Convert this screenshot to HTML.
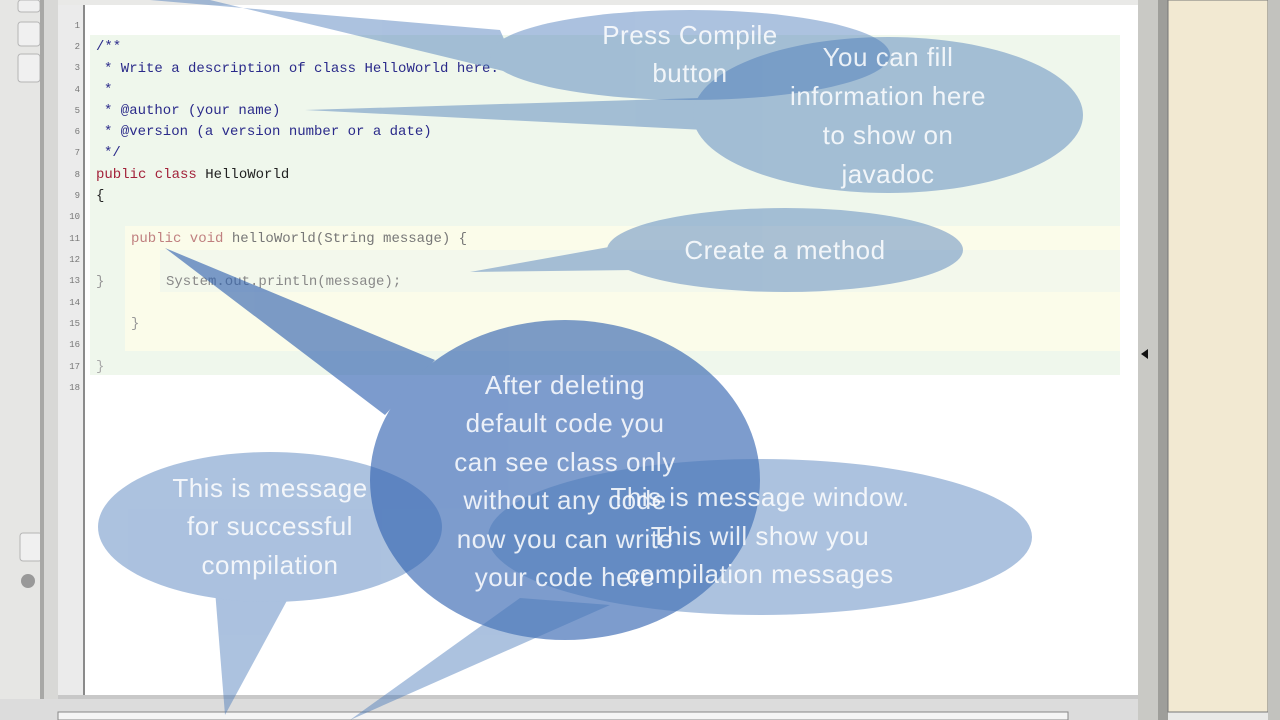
<!DOCTYPE html>
<html><head><meta charset="utf-8"><style>
html,body{margin:0;padding:0;width:1280px;height:720px;overflow:hidden;background:#e9e9e7}
svg{display:block}
.c{font-family:"Liberation Mono",monospace;font-size:14px;white-space:pre}
.t{font-family:"Liberation Sans",sans-serif;font-size:26px;fill:rgba(255,255,255,0.85);text-anchor:middle;letter-spacing:0.5px}
</style></head><body>
<svg width="1280" height="720" viewBox="0 0 1280 720" xmlns="http://www.w3.org/2000/svg">
<rect x="0" y="0" width="45" height="720" fill="#e6e6e4"/>
<rect x="18" y="0" width="22" height="12" rx="3" fill="#f0f0f0" stroke="#b5b5b5"/>
<rect x="18" y="22" width="22" height="24" rx="3" fill="#f0f0f0" stroke="#b5b5b5"/>
<rect x="18" y="54" width="22" height="28" rx="3" fill="#f0f0f0" stroke="#b5b5b5"/>
<rect x="20" y="533" width="22" height="28" rx="3" fill="#f0f0f0" stroke="#b5b5b5"/>
<circle cx="28" cy="581" r="7" fill="#999"/>
<rect x="40" y="0" width="4" height="720" fill="#a8a8a6"/>
<rect x="44" y="0" width="14" height="720" fill="#d8d8d6"/>
<rect x="58" y="5" width="27" height="690" fill="#ebebeb"/>
<rect x="83" y="5" width="2" height="690" fill="#8a8a8a"/>
<rect x="85" y="5" width="1053" height="690" fill="#ffffff"/>
<rect x="90" y="35" width="1030" height="340" fill="#eff7ec"/>
<rect x="125" y="226" width="995" height="125" fill="#fbfcea"/>
<rect x="160" y="250" width="960" height="42" fill="#f3f8ec"/>
<rect x="58" y="695" width="1080" height="4" fill="#c8c8c8"/>
<rect x="0" y="699" width="1160" height="21" fill="#dcdcdc"/>
<rect x="58" y="712" width="1010" height="8" fill="#f5f5f5" stroke="#888"/>
<rect x="1138" y="0" width="22" height="720" fill="#c9c9c5"/>
<rect x="1158" y="0" width="10" height="720" fill="#9e9e9a"/>
<rect x="1168" y="0" width="100" height="712" fill="#f2e9d2" stroke="#777"/>
<rect x="1268" y="0" width="12" height="720" fill="#c2c2be"/>
<polygon points="1141,354 1148,349 1148,359" fill="#111"/>
<g font-family="Liberation Mono,monospace" fill="#777" font-size="9" text-anchor="end">
<text x="80" y="28">1</text><text x="80" y="49">2</text><text x="80" y="70">3</text><text x="80" y="92">4</text><text x="80" y="113">5</text><text x="80" y="134">6</text><text x="80" y="155">7</text><text x="80" y="177">8</text><text x="80" y="198">9</text><text x="80" y="219">10</text><text x="80" y="241">11</text><text x="80" y="262">12</text><text x="80" y="283">13</text><text x="80" y="305">14</text><text x="80" y="326">15</text><text x="80" y="347">16</text><text x="80" y="369">17</text><text x="80" y="390">18</text>
</g>
<g class="c" fill="#2a2a8a">
<text x="96" y="50">/**</text>
<text x="104" y="72">* Write a description of class HelloWorld here.</text>
<text x="104" y="93">*</text>
<text x="104" y="114">* @author (your name)</text>
<text x="104" y="135">* @version (a version number or a date)</text>
<text x="104" y="156">*/</text>
<text x="96" y="178"><tspan fill="#a3223a">public class</tspan><tspan fill="#222"> HelloWorld</tspan></text>
<text x="96" y="199" fill="#222">{</text>
<text x="131" y="242" fill="#777"><tspan fill="#c08080">public void</tspan> helloWorld(String message) {</text>
<text x="166" y="285" fill="#888">System.out.println(message);</text>
<text x="96" y="285" fill="#999">}</text>
<text x="131" y="327" fill="#999">}</text>
<text x="96" y="370" fill="#aaa">}</text>
</g>
<g opacity="0.45" fill="#4677b9">
<path d="M150,0 L500,30 L520,75 L210,0 Z"/>
<ellipse cx="690" cy="55" rx="200" ry="45"/>
</g>
<g opacity="0.45" fill="#4677b9">
<path d="M305,110 L700,98 L705,130 Z"/>
<ellipse cx="888" cy="115" rx="195" ry="78"/>
</g>
<g opacity="0.45" fill="#4677b9">
<path d="M470,272 L620,245 L640,270 Z"/>
<ellipse cx="785" cy="250" rx="178" ry="42"/>
</g>
<g opacity="0.45" fill="#4677b9">
<path d="M225,715 L215,590 L290,595 Z"/>
<ellipse cx="270" cy="527" rx="172" ry="75"/>
</g>
<g opacity="0.62" fill="#2d5faf">
<path d="M165,248 L435,360 L385,415 Z"/>
<ellipse cx="565" cy="480" rx="195" ry="160"/>
</g>
<g opacity="0.45" fill="#4677b9">
<path d="M350,720 L520,598 L610,605 Z"/>
<ellipse cx="760" cy="537" rx="272" ry="78"/>
</g>
<g class="t">
<text x="690" y="44">Press Compile</text><text x="690" y="82">button</text>
<text x="888" y="66">You can fill</text><text x="888" y="105">information here</text><text x="888" y="144">to show on</text><text x="888" y="183">javadoc</text>
<text x="785" y="259">Create a method</text>
<text x="565" y="394">After deleting</text><text x="565" y="432">default code you</text><text x="565" y="471">can see class only</text><text x="565" y="509">without any code</text><text x="565" y="548">now you can write</text><text x="565" y="586">your code here</text>
<text x="760" y="506">This is message window.</text><text x="760" y="545">This will show you</text><text x="760" y="583">compilation messages</text>
<text x="270" y="497">This is message</text><text x="270" y="535">for successful</text><text x="270" y="574">compilation</text>
</g>
</svg>
</body></html>
